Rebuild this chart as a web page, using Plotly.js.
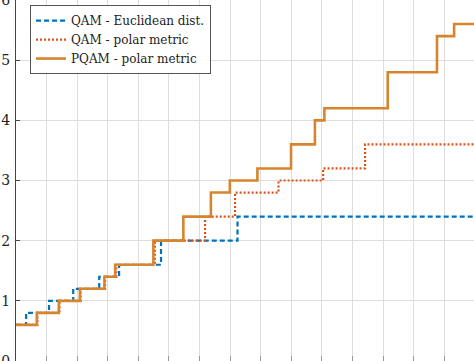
<!DOCTYPE html>
<html>
<head>
<meta charset="utf-8">
<script src="https://cdn.plot.ly/plotly-3.0.1.min.js"></script>
<style>html,body{margin:0;padding:0;background:#fff;overflow:hidden;}</style>
</head>
<body>
<div id="chart" style="width:474px;height:361px;"></div>
<script>
// Series names
var seriesNames = ["QAM - Euclidean dist.", "QAM - polar metric", "PQAM - polar metric"];

// QAM - Euclidean distance (step positions and levels)
var xEuclid = [0, 0.33, 1.08, 1.87, 2.72, 3.37, 4.74, 7.24, 15];
var yEuclid = [0.6, 0.8, 1.0, 1.2, 1.4, 1.6, 2.0, 2.4, 2.4];

// QAM - polar metric
var xQamPolar = [0, 0.70, 1.42, 2.11, 2.91, 3.28, 4.54, 6.18, 7.16, 8.58, 10.04, 11.41, 15];
var yQamPolar = [0.6, 0.8, 1.0, 1.2, 1.4, 1.6, 2.0, 2.4, 2.8, 3.0, 3.2, 3.6, 3.6];

// PQAM - polar metric
var xPqam = [0, 0.68, 1.4, 2.09, 2.89, 3.24, 4.49, 5.47, 6.37, 6.99, 7.89, 8.99, 9.77, 10.08, 12.15, 13.76, 14.32, 15];
var yPqam = [0.6, 0.8, 1.0, 1.2, 1.4, 1.6, 2.0, 2.4, 2.8, 3.0, 3.2, 3.6, 4.0, 4.2, 4.8, 5.4, 5.6, 5.6];

// Y tick labels
var yTickVals = [0, 1, 2, 3, 4, 5, 6];
var yTickText = ["0", "1", "2", "3", "4", "5", "6"];

var serif = "DejaVu Serif";

var traces = [
  {x: xEuclid, y: yEuclid, name: seriesNames[0], mode: "lines",
   line: {shape: "hv", color: "#0072BD", width: 2.2, dash: "5px,3px"}},
  {x: xQamPolar, y: yQamPolar, name: seriesNames[1], mode: "lines",
   line: {shape: "hv", color: "#D95319", width: 2.2, dash: "2px,2px"}},
  {x: xPqam, y: yPqam, name: seriesNames[2], mode: "lines",
   line: {shape: "hv", color: "#D7842F", width: 2.6}}
];

var layout = {
  width: 474, height: 361,
  margin: {l: 16, r: 0, t: 0, b: 0, pad: 0},
  paper_bgcolor: "#fff", plot_bgcolor: "#fff",
  font: {family: serif, size: 14, color: "#262626"},
  showlegend: true,
  legend: {
    x: 0.0306, y: 0.986, xanchor: "left", yanchor: "top",
    bgcolor: "#fff", bordercolor: "#555", borderwidth: 1,
    font: {family: serif, size: 12, color: "#222"},
    itemwidth: 30, tracegroupgap: 0
  },
  xaxis: {
    range: [0, 14.97], dtick: 1, tick0: 0,
    showgrid: true, gridcolor: "#dedede", gridwidth: 1,
    showticklabels: false, ticks: "inside", ticklen: 5, tickcolor: "#999",
    zeroline: false, showline: false, automargin: false, fixedrange: true
  },
  yaxis: {
    range: [0, 6], tickvals: yTickVals, ticktext: yTickText,
    showgrid: true, gridcolor: "#dedede", gridwidth: 1,
    ticks: "inside", ticklen: 4, tickcolor: "#444",
    showline: true, linecolor: "#444", linewidth: 1,
    zeroline: false, automargin: false, ticklabelstandoff: 2,
    ticklabeloverflow: "allow",
    tickfont: {family: serif, size: 14, color: "#222"}
  }
};

Plotly.newPlot("chart", traces, layout, {displayModeBar: false, staticPlot: true});
</script>
</body>
</html>
